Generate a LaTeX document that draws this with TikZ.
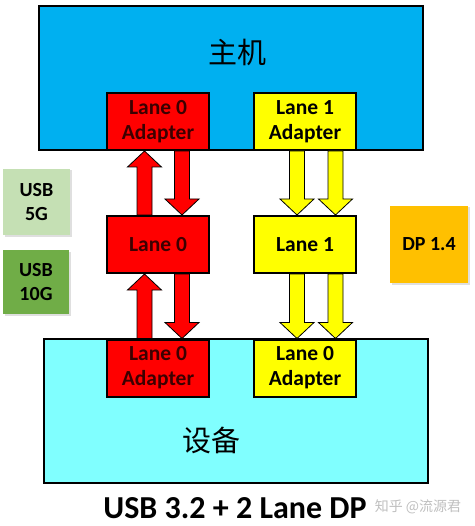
\documentclass[tikz,border=0pt]{standalone}
\usepackage{fontspec}
\setmainfont{Carlito}
\newfontfamily\cjk{Noto Sans CJK SC}
\usetikzlibrary{calc,shadows}
\definecolor{hostblue}{HTML}{00B0F0}
\definecolor{devcyan}{HTML}{80FFFF}
\definecolor{lanered}{HTML}{FF0000}
\definecolor{laneyellow}{HTML}{FFFF00}
\definecolor{usbpale}{HTML}{C5E0B4}
\definecolor{usbgreen}{HTML}{70AD47}
\definecolor{dporange}{HTML}{FFC000}
\definecolor{redtext}{HTML}{3C0000}
\tikzset{
  board/.style={draw=black,line width=2pt,minimum width=384pt,minimum height=144pt},
  lanebox/.style={draw=black,line width=2pt,minimum width=102pt,minimum height=57pt,
    align=center,font=\bfseries\fontsize{21.5}{25}\selectfont,inner sep=1pt},
  tag/.style={align=center,font=\bfseries\fontsize{20}{24}\selectfont,
    drop shadow={shadow xshift=1.5pt,shadow yshift=-1.5pt,opacity=0.25}},
}
% fat arrow from #2 to the tip #3
\newcommand{\fatarrow}[3]{%
  \filldraw[fill=#1,draw=black,line width=0.8pt,line join=miter]
    let \p1=(#2), \p2=(#3), \n1={sign(\y2-\y1)} in
    (\x1-7.5pt,\y1) -- (\x1-7.5pt,\y2-\n1*16pt) -- (\x1-17pt,\y2-\n1*16pt) -- (\x1,\y2)
    -- (\x1+17pt,\y2-\n1*16pt) -- (\x1+7.5pt,\y2-\n1*16pt) -- (\x1+7.5pt,\y1) -- cycle;}
\begin{document}
\begin{tikzpicture}[x=1pt,y=-1pt]
  \useasboundingbox (0,0) rectangle (474,526);
  \node[board,fill=hostblue] (host) at (231,78) {};
  \node[font=\cjk\fontsize{29}{34}\selectfont] (hostname) at (237,52) {主机};
  \node[board,fill=devcyan] (dev) at (236,411) {};
  \node[font=\cjk\fontsize{29}{34}\selectfont] (devname) at (211,440) {设备};

  \node[lanebox,fill=lanered,text=redtext] (ha0) at (158,121.5) {Lane 0\\Adapter};
  \node[lanebox,fill=laneyellow] (ha1) at (305,121.5) {Lane 1\\Adapter};
  \node[lanebox,fill=lanered,text=redtext] (l0) at (158,244.5) {Lane 0};
  \node[lanebox,fill=laneyellow] (l1) at (305,244.5) {Lane 1};
  \node[lanebox,fill=lanered,text=redtext] (da0) at (158,368) {Lane 0\\Adapter};
  \node[lanebox,fill=laneyellow] (da1) at (305,368) {Lane 0\\Adapter};

  \node[tag,fill=usbpale,minimum width=67pt,minimum height=66pt] (usb5) at (36.5,202) {USB\\5G};
  \node[tag,fill=usbgreen,minimum width=66pt,minimum height=64pt] (usb10) at (36,282) {USB\\10G};
  \node[tag,fill=dporange,minimum width=78pt,minimum height=77pt] (dp) at (429,244.5) {DP 1.4};

  \fatarrow{lanered}{$(l0.north)+(-13.5,0)$}{$(ha0.south)+(-13.5,0)$}
  \fatarrow{lanered}{$(ha0.south)+(24,0)$}{$(l0.north)+(24,0)$}
  \fatarrow{laneyellow}{$(ha1.south)+(-8,0)$}{$(l1.north)+(-8,0)$}
  \fatarrow{laneyellow}{$(ha1.south)+(30.5,0)$}{$(l1.north)+(30.5,0)$}

  \fatarrow{lanered}{$(da0.north)+(-13.5,0)$}{$(l0.south)+(-13.5,0)$}
  \fatarrow{lanered}{$(l0.south)+(24,0)$}{$(da0.north)+(24,0)$}
  \fatarrow{laneyellow}{$(l1.south)+(-8,0)$}{$(da1.north)+(-8,0)$}
  \fatarrow{laneyellow}{$(l1.south)+(30.5,0)$}{$(da1.north)+(30.5,0)$}

  \node[font=\bfseries\fontsize{32}{36}\selectfont] (title) at (235,508) {USB 3.2 + 2 Lane DP};
  \node[text=black!25,font=\cjk\fontsize{14}{16}\selectfont] (mark) at (418,507) {知乎 @流源君};
\end{tikzpicture}
\end{document}
